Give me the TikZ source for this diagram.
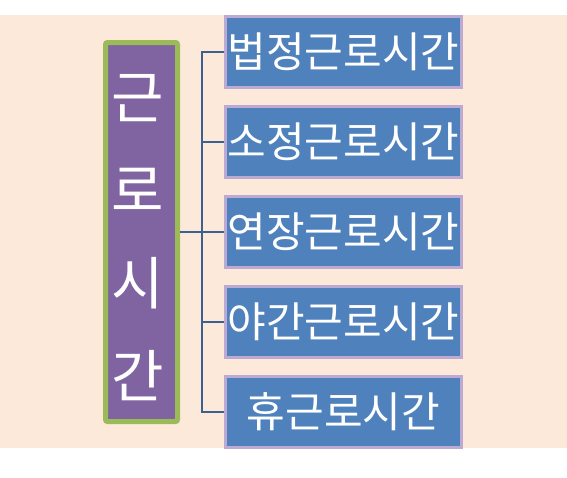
\documentclass[tikz,border=0pt]{standalone}
\usepackage{fontspec}
\newfontfamily\kr{Noto Sans CJK KR}
\definecolor{peach}{HTML}{FDE9D9}
\definecolor{purp}{HTML}{8064A2}
\definecolor{grn}{HTML}{9BBB59}
\definecolor{blu}{HTML}{4F81BD}
\definecolor{lav}{HTML}{BCAAD2}
\definecolor{conn}{HTML}{3C6090}
\tikzset{
  rootbox/.style={draw=grn, fill=purp, line width=5pt, rounded corners=2pt,
    minimum width=72pt, minimum height=379pt, inner sep=0pt, text=white,
    align=center, font=\kr\fontsize{57}{93}\selectfont},
  itembox/.style={draw=lav, fill=blu, line width=3pt,
    minimum width=236pt, minimum height=71pt, inner sep=0pt, text=white,
    font=\kr\fontsize{42}{44}\selectfont},
  link/.style={draw=conn, line width=2pt}
}
\begin{document}
\begin{tikzpicture}[x=1pt,y=-1pt]
\useasboundingbox (0,0) rectangle (567,477);
\fill[peach] (0,15) rectangle (567,448);
\node[rootbox] (root) at (141.5,232) {};
\node[text=white, align=center, font=\kr\fontsize{57}{93}\selectfont] (rtxt) at (138,238) {근\\로\\시\\간};
\node[itembox] (b1) at (343.5,52) {법정근로시간};
\node[itembox] (b2) at (343.5,142) {소정근로시간};
\node[itembox] (b3) at (343.5,232) {연장근로시간};
\node[itembox] (b4) at (343.5,322) {야간근로시간};
\node[itembox] (b5) at (343.5,412) {휴근로시간};
\coordinate (jn) at (202,232);
\path[link] (root.east) -- (b3.west);
\path[link] (b1.west) -| (jn) |- (b5.west);
\path[link] (b2.west) -| (jn);
\path[link] (b4.west) -| (jn);
\end{tikzpicture}
\end{document}
